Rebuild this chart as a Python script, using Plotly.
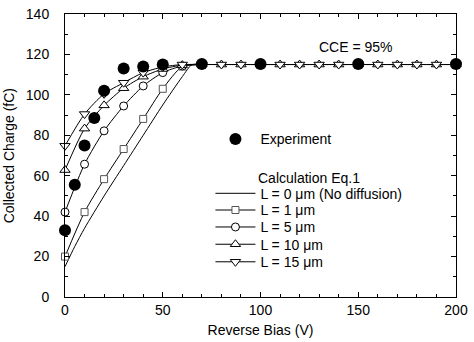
import plotly.graph_objects as go

# ---- data ----
bias_exp = [0, 5, 10, 15, 20, 30, 40, 50, 70, 100, 150, 200]
charge_exp = [33, 55.5, 75, 88.5, 102, 113, 114, 115, 115.3, 115.3, 115.3, 115.3]

bias_l0 = [0, 5, 10, 20, 30, 40, 50, 60, 65, 70]
charge_l0 = [15, 25, 34, 50, 65, 80, 95, 109, 115, 115]

bias_short = [0, 10, 20, 30, 40, 50, 60, 70]
charge_l1 = [20, 42, 58.3, 73.2, 88.1, 103, 114, 115]
charge_l5 = [42, 65.7, 82.2, 94.5, 104.4, 111, 114.3, 115]

bias_long = [0, 10, 20, 30, 40, 50, 60, 70, 80, 90, 100, 110, 120, 130, 140,
             150, 160, 170, 180, 190, 200]
charge_l10 = [62.8, 83.3, 94.8, 103.3, 109, 112.8, 114.7, 115, 115, 115, 115,
              115, 115, 115, 115, 115, 115, 115, 115, 115, 115]
charge_l15 = [74.8, 90.5, 100.5, 106, 111, 113.8, 115, 115, 115, 115, 115,
              115, 115, 115, 115, 115, 115, 115, 115, 115, 115]

x_ticks = [0, 50, 100, 150, 200]
y_ticks = [0, 20, 40, 60, 80, 100, 120, 140]

FONT = "Liberation Sans, Arial, sans-serif"
LINE = dict(color="black", width=1, shape="spline", smoothing=0.7)

fig = go.Figure()

def open_marker(symbol, size):
    return dict(symbol=symbol, size=size, color="white",
                line=dict(color="black", width=1))

fig.add_trace(go.Scatter(x=bias_l0, y=charge_l0, mode="lines",
                         name="L = 0 \u03bcm (No diffusion)", line=LINE,
                         legend="legend2"))
fig.add_trace(go.Scatter(x=bias_short, y=charge_l1, mode="lines+markers",
                         name="L = 1 \u03bcm", line=LINE,
                         marker=dict(symbol="square", size=7, color="white",
                                     line=dict(color="#555", width=1)),
                         legend="legend3", cliponaxis=False))
fig.add_trace(go.Scatter(x=bias_short, y=charge_l5, mode="lines+markers",
                         name="L = 5 \u03bcm", line=LINE,
                         marker=open_marker("circle", 8),
                         legend="legend4", cliponaxis=False))
fig.add_trace(go.Scatter(x=bias_long, y=charge_l10, mode="lines+markers",
                         name="L = 10 \u03bcm", line=LINE,
                         marker=open_marker("triangle-up", 9),
                         legend="legend5", cliponaxis=False))
fig.add_trace(go.Scatter(x=bias_long, y=charge_l15, mode="lines+markers",
                         name="L = 15 \u03bcm", line=LINE,
                         marker=open_marker("triangle-down", 9),
                         legend="legend6", cliponaxis=False))
fig.add_trace(go.Scatter(x=bias_exp, y=charge_exp, mode="markers",
                         name="Experiment",
                         marker=dict(symbol="circle", size=12, color="black"),
                         legend="legend", cliponaxis=False))

axis_common = dict(showline=True, linecolor="black", linewidth=1, mirror="ticks",
                   ticks="inside", ticklen=5, tickcolor="black", tickwidth=1,
                   showgrid=False, zeroline=False, ticklabeloverflow="allow",
                   tickfont=dict(family=FONT, size=14, color="black"))

fig.update_xaxes(range=[0, 200], tickvals=x_ticks,
                 minor=dict(dtick=10, ticks="inside", ticklen=3, tickcolor="black"),
                 title=dict(text="Reverse Bias (V)", standoff=8,
                            font=dict(family=FONT, size=14, color="black")),
                 **axis_common)
fig.update_yaxes(range=[0, 140], tickvals=y_ticks, ticklabelstandoff=12,
                 minor=dict(dtick=10, ticks="inside", ticklen=3, tickcolor="black"),
                 **axis_common)

fig.add_annotation(x=-0.1436, y=0.5, xref="paper", yref="paper",
                   xanchor="center", yanchor="middle", textangle=-90,
                   showarrow=False, text="Collected Charge (fC)",
                   font=dict(family=FONT, size=14, color="black"))
fig.add_annotation(x=148.7, y=123.6, text="CCE = 95%", showarrow=False,
                   font=dict(family=FONT, size=14, color="black"))
fig.add_annotation(x=0.491, y=0.421, xref="paper", yref="paper",
                   xanchor="left", yanchor="middle", showarrow=False,
                   text="Calculation Eq.1", borderpad=0,
                   font=dict(family=FONT, size=14, color="black"))

LEG_X = 0.372
leg_y = {"legend": 0.557, "legend2": 0.365, "legend3": 0.306,
         "legend4": 0.246, "legend5": 0.185, "legend6": 0.123}
legends = {}
for k, yv in leg_y.items():
    legends[k] = dict(x=LEG_X, y=yv, xanchor="left", yanchor="middle",
                      bgcolor="rgba(0,0,0,0)", borderwidth=0, itemwidth=40,
                      font=dict(family=FONT, size=14, color="black"))

fig.update_layout(
    width=474, height=342,
    margin=dict(l=65, r=12, t=6, b=45),
    paper_bgcolor="white", plot_bgcolor="white",
    font=dict(family=FONT, size=14, color="black"),
    showlegend=True,
    **legends,
)

fig.write_html("out.html")
